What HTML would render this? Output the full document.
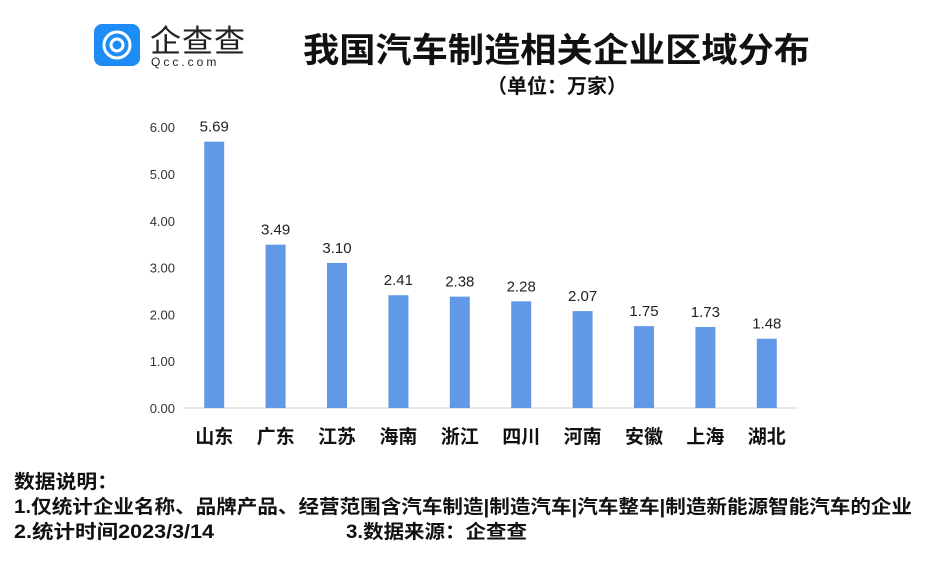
<!DOCTYPE html>
<html><head><meta charset="utf-8"><style>
body{margin:0;background:#fff;width:942px;height:569px;overflow:hidden;font-family:"Liberation Sans","Noto Sans CJK SC",sans-serif;}
</style></head><body>
<svg width="942" height="569" xmlns="http://www.w3.org/2000/svg">
<g>
<rect x="94" y="24" width="46" height="42" rx="8" fill="#1e8cf5"/>
<circle cx="117" cy="45" r="13" fill="none" stroke="#fff" stroke-width="3"/>
<circle cx="117" cy="45" r="6" fill="none" stroke="#fff" stroke-width="3"/>
<text x="150" y="52" font-size="31" fill="#222" font-family="'Noto Sans CJK SC',sans-serif" textLength="95">企查查</text>
<text x="151" y="66" font-size="12" fill="#222" letter-spacing="3">Qcc.com</text>
</g>
<text x="303" y="62" font-size="34" font-weight="bold" fill="#111" textLength="507" lengthAdjust="spacingAndGlyphs">我国汽车制造相关企业区域分布</text>
<text x="487" y="93" font-size="20" font-weight="bold" fill="#111" textLength="140" lengthAdjust="spacingAndGlyphs">（单位：万家）</text>
<g id="yaxis"></g>
<line x1="183" y1="408" x2="798" y2="408" stroke="#d0d0d0" stroke-width="1"/>
<g id="bars"></g>
<g font-size="19" font-weight="bold" fill="#111">
<text x="14" y="488" textLength="104" lengthAdjust="spacingAndGlyphs">数据说明：</text>
<text x="14" y="513" textLength="898" lengthAdjust="spacingAndGlyphs">1.仅统计企业名称、品牌产品、经营范围含汽车制造|制造汽车|汽车整车|制造新能源智能汽车的企业</text>
<text x="14" y="538" textLength="200" lengthAdjust="spacingAndGlyphs">2.统计时间2023/3/14</text>
<text x="346" y="538" textLength="181" lengthAdjust="spacingAndGlyphs">3.数据来源：企查查</text>
</g>
</svg>
<script>
const categories=["山东","广东","江苏","海南","浙江","四川","河南","安徽","上海","湖北"];
const values=[5.69,3.49,3.10,2.41,2.38,2.28,2.07,1.75,1.73,1.48];
const ticks=[0,1,2,3,4,5,6];
const NS="http://www.w3.org/2000/svg";
const y0=408,pxPer=46.8,x0=183.5,band=61.4,bw=20;
const yS=v=>y0-v*pxPer, xS=i=>x0+band*(i+0.5);
function mk(t,a,txt){const e=document.createElementNS(NS,t);for(const k in a)e.setAttribute(k,a[k]);if(txt!=null)e.textContent=txt;return e;}
const ya=document.getElementById('yaxis');
ticks.forEach(t=>{const e=mk('text',{x:175,y:yS(t)+5,'text-anchor':'end','font-size':13,fill:'#333'},t.toFixed(2));


ya.appendChild(e);});
const g=document.getElementById('bars');
values.forEach((v,i)=>{const cx=xS(i);
const r=mk('rect',{x:cx-bw/2,y:yS(v),width:bw,height:v*pxPer,fill:'#6199e6'});


g.appendChild(r);
const l=mk('text',{x:cx,y:yS(v)-10,'text-anchor':'middle','font-size':15,fill:'#222'},v.toFixed(2));


g.appendChild(l);
const c=mk('text',{x:cx,y:443,'text-anchor':'middle','font-size':19,'font-weight':'bold',fill:'#111'},categories[i]);


g.appendChild(c);});
</script>
</body></html>
